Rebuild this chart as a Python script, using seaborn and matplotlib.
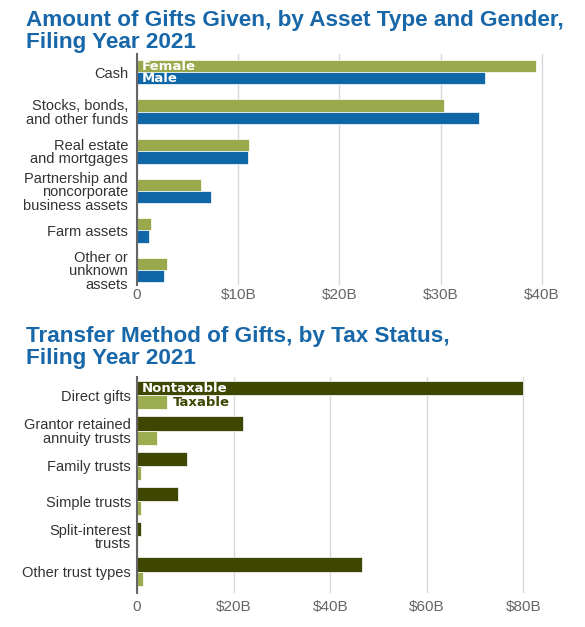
import pandas as pd
import matplotlib
matplotlib.use("Agg")
import matplotlib.pyplot as plt
import seaborn as sns

# Gifts by asset type and gender (billions of dollars)
asset_types = ["Cash", "Stocks, bonds,\nand other funds", "Real estate\nand mortgages",
               "Partnership and\nnoncorporate\nbusiness assets", "Farm assets",
               "Other or\nunknown\nassets"]
female_gifts = [39.4, 30.3, 11.1, 6.3, 1.4, 3.0]
male_gifts = [34.4, 33.8, 11.0, 7.3, 1.2, 2.7]
gender_ticks = [0, 10, 20, 30, 40]

# Transfer method by tax status (billions of dollars)
transfer_methods = ["Direct gifts", "Grantor retained\nannuity trusts", "Family trusts",
                    "Simple trusts", "Split-interest\ntrusts", "Other trust types"]
nontaxable = [80.0, 21.9, 10.4, 8.4, 0.9, 46.5]
taxable = [6.2, 4.2, 0.8, 0.8, 0.15, 1.2]
tax_ticks = [0, 20, 40, 60, 80]

OLIVE = "#9aa94c"
LIGHT_OLIVE = "#9cad50"
BLUE = "#0f67a7"
DARK_OLIVE = "#3e4602"
TITLE_BLUE = "#1767a9"
W, H = 585, 627


def money(v):
    return "0" if v == 0 else f"${v:g}B"


def style_axis(ax, ticks, xmax, ypad, xpad):
    ax.set_xlim(0, xmax)
    ax.set_xticks(ticks)
    ax.set_xticklabels([money(t) for t in ticks])
    ax.set_xlabel("")
    ax.set_ylabel("")
    for side in ["top", "right", "bottom"]:
        ax.spines[side].set_visible(False)
    ax.spines["left"].set_color("#666666")
    ax.spines["left"].set_linewidth(1.5)
    ax.grid(axis="x", color="#d8d8d8", linewidth=1)
    ax.grid(axis="y", visible=False)
    ax.set_axisbelow(True)
    ax.tick_params(axis="x", length=0, pad=xpad, labelsize=11, labelcolor="#666666")
    ax.tick_params(axis="y", length=0, pad=ypad, labelsize=10.5, labelcolor="#333333")
    for lab in ax.get_yticklabels() + ax.get_xticklabels():
        lab.set_family("Liberation Sans")
    for lab in ax.get_yticklabels():
        lab.set_linespacing(0.95)


sns.set_style("white")
plt.rcParams["font.family"] = ["Liberation Sans", "DejaVu Sans"]

fig = plt.figure(figsize=(W / 100, H / 100), dpi=100)

# ---- top panel ----
gender_df = pd.DataFrame({
    "asset": asset_types * 2,
    "value": female_gifts + male_gifts,
    "gender": ["Female"] * len(asset_types) + ["Male"] * len(asset_types),
})
ax1 = fig.add_axes([137 / W, 1 - 285 / H, (562 - 137) / W, (285 - 54) / H])
sns.barplot(data=gender_df, y="asset", x="value", hue="gender", order=asset_types,
            hue_order=["Female", "Male"], palette=[OLIVE, BLUE], width=0.62,
            saturation=1, orient="h", errorbar=None, legend=False, edgecolor="white",
            linewidth=0.5, ax=ax1)
ax1.set_ylim(5.38, -0.46)
style_axis(ax1, gender_ticks, 42, 6.5, 2)

for cont, name in zip(ax1.containers, ["Female", "Male"]):
    bar = cont[0]
    ax1.annotate(name, xy=(0, bar.get_y() + bar.get_height() / 2), xytext=(3.5, 0),
                 textcoords="offset points", va="center", ha="left", color="white",
                 fontsize=9.5, fontweight="bold", family="DejaVu Sans")

fig.text(26 / W, 1 - 10 / H, "Amount of Gifts Given, by Asset Type and Gender,\nFiling Year 2021",
         ha="left", va="top", fontsize=16.2, fontweight="bold", color=TITLE_BLUE,
         family="Liberation Sans", linespacing=1.05)

# ---- bottom panel ----
tax_df = pd.DataFrame({
    "method": transfer_methods * 2,
    "value": nontaxable + taxable,
    "status": ["Nontaxable"] * len(transfer_methods) + ["Taxable"] * len(transfer_methods),
})
ax2 = fig.add_axes([137 / W, 1 - 593 / H, (562 - 137) / W, (593 - 377) / H])
sns.barplot(data=tax_df, y="method", x="value", hue="status", order=transfer_methods,
            hue_order=["Nontaxable", "Taxable"], palette=[DARK_OLIVE, LIGHT_OLIVE],
            width=0.8, saturation=1, orient="h", errorbar=None, legend=False,
            edgecolor="white", linewidth=0.5, ax=ax2)
ax2.set_ylim(5.61, -0.52)
style_axis(ax2, tax_ticks, 88, 4.5, 5)

non_bar = ax2.containers[0][0]
ax2.annotate("Nontaxable", xy=(0, non_bar.get_y() + non_bar.get_height() / 2),
             xytext=(3.5, 0), textcoords="offset points", va="center", ha="left",
             color="white", fontsize=9.5, fontweight="bold", family="DejaVu Sans")
tax_bar = ax2.containers[1][0]
ax2.annotate("Taxable", xy=(tax_bar.get_width(), tax_bar.get_y() + tax_bar.get_height() / 2),
             xytext=(4, 0), textcoords="offset points", va="center", ha="left",
             color=DARK_OLIVE, fontsize=9.5, fontweight="bold", family="DejaVu Sans")

fig.text(26 / W, 1 - 326 / H, "Transfer Method of Gifts, by Tax Status,\nFiling Year 2021",
         ha="left", va="top", fontsize=16.2, fontweight="bold", color=TITLE_BLUE,
         family="Liberation Sans", linespacing=1.05)

fig.savefig("out.png", dpi=100)
